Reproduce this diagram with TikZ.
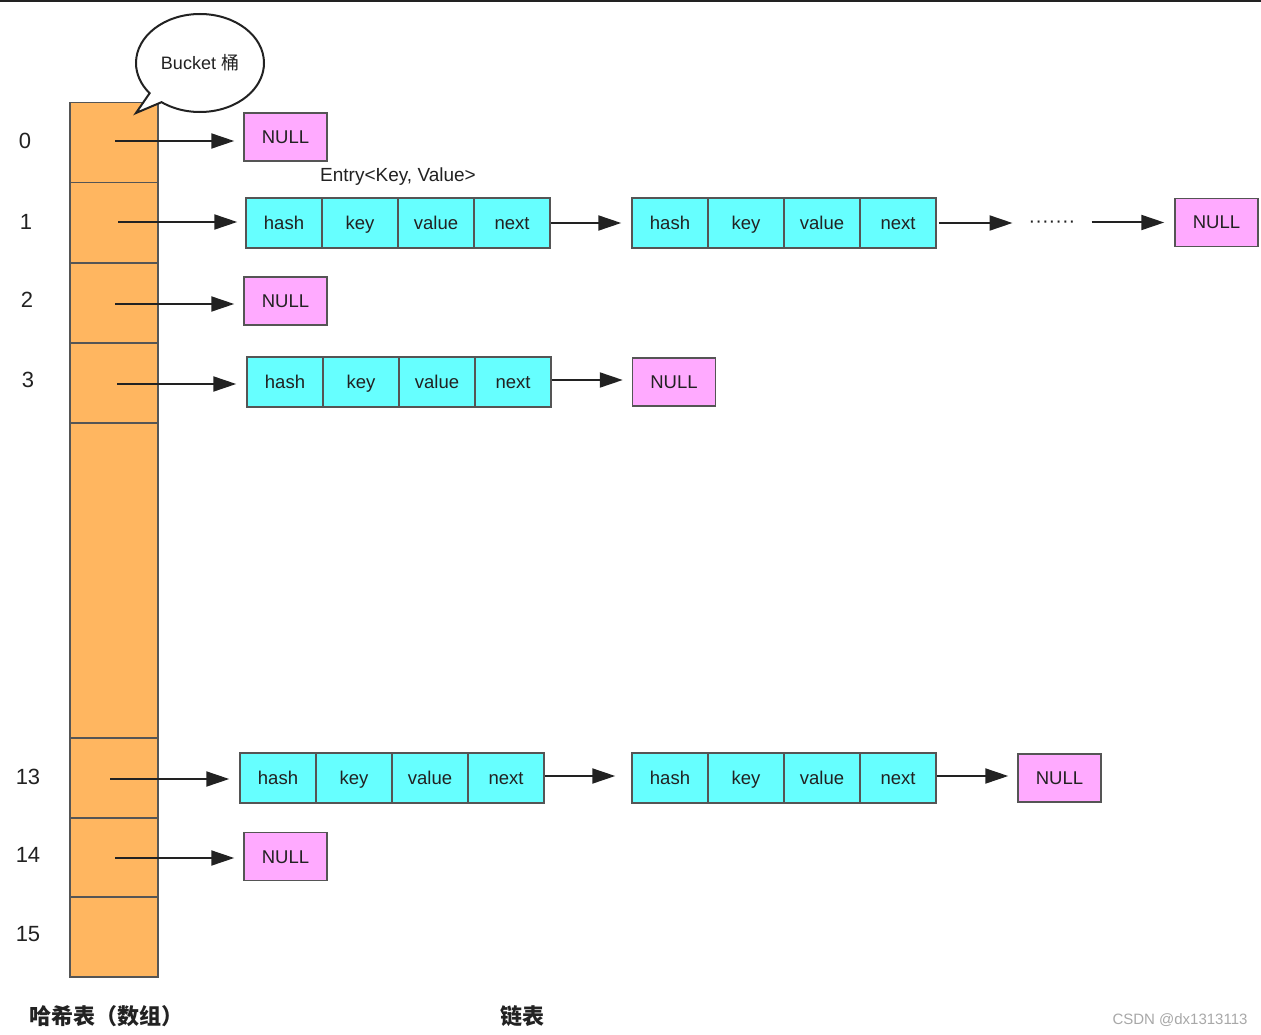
\documentclass[tikz,border=0pt]{standalone}
\usepackage{fontspec}
\setmainfont{Liberation Sans}
\newfontfamily\cjk{Noto Sans CJK SC}
\usetikzlibrary{arrows.meta,shapes.callouts}
\definecolor{orangefill}{HTML}{FFB660}
\definecolor{cyanfill}{HTML}{66FFFF}
\definecolor{pinkfill}{HTML}{FFAAFF}
\definecolor{edgegray}{HTML}{555555}
\definecolor{ink}{HTML}{222222}
\definecolor{wm}{HTML}{A8A8A8}
\begin{document}
\begin{tikzpicture}[x=1pt,y=-1pt,
  bucket/.style={draw=edgegray, line width=1.5pt, fill=orangefill, minimum width=88pt, inner sep=0pt, anchor=north west},
  fld/.style={draw=edgegray, line width=1.5pt, fill=cyanfill, minimum width=76pt, minimum height=50pt, inner sep=0pt, text height=13pt, text depth=0pt, font=\fontsize{18.5}{20}\selectfont, text=ink},
  nullbox/.style={draw=edgegray, line width=1.5pt, fill=pinkfill, minimum width=83pt, minimum height=48pt, inner sep=0pt, text height=13pt, text depth=0pt, font=\fontsize{18.5}{20}\selectfont, text=ink},
  idx/.style={font=\fontsize{22}{24}\selectfont, text=ink},
  arr/.style={-{Triangle[length=23pt,width=15pt]}, line width=2pt, draw=ink},
]
\useasboundingbox (0,0) rectangle (1261,1035);
\fill[white] (0,0) rectangle (1261,1035);
\draw[line width=2pt, ink] (0,1) -- (1261,1);

% bucket column
\node[bucket, minimum height=80pt] (b0) at (69,102) {};
\node[bucket, minimum height=80pt] (b1) at (69,182) {};
\node[bucket, minimum height=80pt] (b2) at (69,262) {};
\node[bucket, minimum height=80pt] (b3) at (69,342) {};
\node[bucket, minimum height=315pt] (bmid) at (69,422) {};
\node[bucket, minimum height=80pt] (b13) at (69,737) {};
\node[bucket, minimum height=79pt] (b14) at (69,817) {};
\node[bucket, minimum height=80pt] (b15) at (69,896) {};

% index labels
\node[idx] (l0) at (25,141) {0};
\node[idx] (l1) at (26,222) {1};
\node[idx] (l2) at (27,300) {2};
\node[idx] (l3) at (28,380) {3};
\node[idx] (l13) at (28,777) {13};
\node[idx] (l14) at (28,855) {14};
\node[idx] (l15) at (28,934) {15};

% bubble
\node[ellipse callout, draw=ink, line width=2pt, fill=white, minimum width=128pt, minimum height=98pt, inner sep=0pt,
  callout absolute pointer={(136,113)}, font=\fontsize{18}{20}\selectfont, text=ink] (bubble) at (200,63) {Bucket {\cjk 桶}};

% NULL boxes
\node[nullbox] (n0) at (285.5,137) {NULL};
\node[nullbox] (n2) at (285.5,301) {NULL};
\node[nullbox] (n14) at (285.5,856.5) {NULL};
\node[nullbox] (n3) at (674,382) {NULL};
\node[nullbox] (n1) at (1216.5,222.5) {NULL};
\node[nullbox] (n13) at (1059.5,778) {NULL};

% row 1 records
\node[fld] (r1a) at (284,223) {hash};
\node[fld] (r1b) at (360,223) {key};
\node[fld] (r1c) at (436,223) {value};
\node[fld] (r1d) at (512,223) {next};
\node[fld] (r1e) at (670,223) {hash};
\node[fld] (r1f) at (746,223) {key};
\node[fld] (r1g) at (822,223) {value};
\node[fld] (r1h) at (898,223) {next};
\node[font=\fontsize{19}{21}\selectfont, text=ink] (entry) at (398,177) {Entry<Key, Value>};
\node[font=\fontsize{20}{21}\selectfont, text=ink, inner sep=0pt] (dots) at (1052,224) {·······};

% row 3 record
\node[fld] (r3a) at (285,382) {hash};
\node[fld] (r3b) at (361,382) {key};
\node[fld] (r3c) at (437,382) {value};
\node[fld] (r3d) at (513,382) {next};

% row 13 records
\node[fld] (r13a) at (278,778) {hash};
\node[fld] (r13b) at (354,778) {key};
\node[fld] (r13c) at (430,778) {value};
\node[fld] (r13d) at (506,778) {next};
\node[fld] (r13e) at (670,778) {hash};
\node[fld] (r13f) at (746,778) {key};
\node[fld] (r13g) at (822,778) {value};
\node[fld] (r13h) at (898,778) {next};

% arrows from buckets
\coordinate (s0) at (115,141);
\coordinate (s1) at (118,222);
\coordinate (s2) at (115,304);
\coordinate (s3) at (117,384);
\coordinate (s13) at (110,779);
\coordinate (s14) at (115,858);
\draw[arr, shorten >=9pt] (s0) -- (s0 -| n0.west);
\draw[arr, shorten >=8pt] (s1) -- (s1 -| r1a.west);
\draw[arr, shorten >=9pt] (s2) -- (s2 -| n2.west);
\draw[arr, shorten >=10pt] (s3) -- (s3 -| r3a.west);
\draw[arr, shorten >=10pt] (s13) -- (s13 -| r13a.west);
\draw[arr, shorten >=9pt] (s14) -- (s14 -| n14.west);

% arrows between records
\draw[arr, shorten >=10pt] (r1d.east) -- (r1e.west);
\draw[arr, shorten <=2pt, shorten >=16pt] (r1h.east) -- (r1h.east -| dots.west);
\draw[arr, shorten <=16pt, shorten >=10pt] (dots.east |- n1.center) -- (n1.west);
\draw[arr, shorten >=9pt] ([yshift=2pt]r3d.east) -- ([yshift=2pt]r3d.east -| n3.west);
\draw[arr, shorten >=16pt] ([yshift=2pt]r13d.east) -- ([yshift=2pt]r13d.east -| r13e.west);
\draw[arr, shorten >=9pt] ([yshift=2pt]r13h.east) -- ([yshift=2pt]r13h.east -| n13.west);

% bottom labels
\node[font=\cjk\bfseries\fontsize{22}{24}\selectfont, text=ink, anchor=west, inner sep=0pt] (hl) at (29,1016) {哈希表（数组）};
\node[font=\cjk\bfseries\fontsize{22}{24}\selectfont, text=ink, inner sep=0pt] (ll) at (522,1016) {链表};
\node[font=\fontsize{15}{17}\selectfont, text=wm, inner sep=0pt] (wmk) at (1180,1020) {CSDN @dx1313113};
\end{tikzpicture}
\end{document}
